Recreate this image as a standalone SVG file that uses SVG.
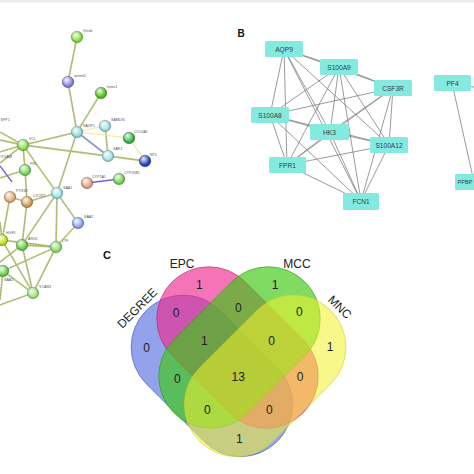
<svg xmlns="http://www.w3.org/2000/svg" xmlns:xlink="http://www.w3.org/1999/xlink" width="474" height="474" viewBox="0 0 474 474">
<style>
.ea{stroke:#c6d28a;stroke-width:1.8;fill:none}
.eb{stroke:#66705a;stroke-width:0.55;stroke-dasharray:1.6 1;fill:none;opacity:.8}
.ey{stroke:#eaea9a;stroke-width:1.2}
.ep{stroke:#6a64d8;stroke-width:1.3}
.ebl{stroke:#8a98c8;stroke-width:1.6}
.sph{stroke-width:0.4}
.lblA{font-family:"Liberation Sans",Arial,sans-serif;font-size:3.6px;fill:#555}
.be{stroke:#7a7a7a;stroke-width:0.75;fill:none}
.box{fill:#84eadf}
.bt{font-family:"Liberation Sans",Arial,sans-serif;font-size:6.6px;fill:#3a3a3a;text-anchor:middle}
.pl{font-family:"Liberation Sans",Arial,sans-serif;font-weight:bold;fill:#111}
.vl{font-family:"Liberation Sans",Arial,sans-serif;font-size:12px;fill:#222;text-anchor:middle}
.vn{font-family:"Liberation Sans",Arial,sans-serif;font-size:12px;fill:#222;text-anchor:middle}
</style>
<defs>
<radialGradient id="hl" cx="0.38" cy="0.32" r="0.5">
<stop offset="0" stop-color="#fff" stop-opacity="0.9"/>
<stop offset="1" stop-color="#fff" stop-opacity="0"/>
</radialGradient>
<radialGradient id="sh" cx="0.5" cy="0.5" r="0.5">
<stop offset="0.6" stop-color="#000" stop-opacity="0"/>
<stop offset="1" stop-color="#000" stop-opacity="0.3"/>
</radialGradient>
</defs>
<rect width="474" height="474" fill="#fff"/>
<rect width="474" height="2.5" fill="#ececec"/>

<!-- Panel A connectors -->
<g id="connectors-A">
<g class="ea"><g id="eA">
<line x1="77" y1="37" x2="68" y2="82"/>
<line x1="68" y1="82" x2="77" y2="132"/>
<line x1="101" y1="93" x2="77" y2="132"/>
<line x1="77" y1="132" x2="23" y2="145"/>
<line x1="77" y1="132" x2="57" y2="193"/>
<line x1="105" y1="126" x2="108" y2="156"/>
<line x1="108" y1="156" x2="145" y2="161"/>
<line x1="23" y1="145" x2="108" y2="156"/>
<line x1="23" y1="145" x2="25" y2="170"/>
<line x1="23" y1="145" x2="57" y2="193"/>
<line x1="23" y1="145" x2="0" y2="132"/>
<line x1="23" y1="145" x2="0" y2="140"/>
<line x1="23" y1="145" x2="0" y2="152"/>
<line x1="23" y1="145" x2="0" y2="163"/>
<line x1="25" y1="170" x2="27" y2="202"/>
<line x1="25" y1="170" x2="0" y2="178"/>
<line x1="57" y1="193" x2="27" y2="202"/>
<line x1="57" y1="193" x2="78" y2="223"/>
<line x1="57" y1="193" x2="56" y2="247"/>
<line x1="57" y1="193" x2="22" y2="245"/>
<line x1="10" y1="197" x2="27" y2="202"/>
<line x1="10" y1="197" x2="2" y2="240"/>
<line x1="27" y1="202" x2="22" y2="245"/>
<line x1="78" y1="223" x2="56" y2="247"/>
<line x1="22" y1="245" x2="56" y2="247"/>
<line x1="2" y1="240" x2="56" y2="247"/>
<line x1="3" y1="271" x2="56" y2="247"/>
<line x1="33" y1="293" x2="56" y2="247"/>
<line x1="33" y1="293" x2="22" y2="245"/>
<line x1="33" y1="293" x2="3" y2="271"/>
<line x1="2" y1="240" x2="33" y2="293"/>
<line x1="22" y1="245" x2="0" y2="262"/>
<line x1="3" y1="271" x2="0" y2="300"/>
<line x1="33" y1="293" x2="0" y2="305"/>
<line x1="2" y1="240" x2="0" y2="222"/>
</g></g>
<use href="#eA" xlink:href="#eA" class="eb"/>
<line class="ey" x1="77" y1="132" x2="105" y2="126"/>
<line class="ey" x1="77" y1="132" x2="129" y2="138"/>
<line class="ey" x1="129" y1="138" x2="145" y2="161"/>
<line class="ebl" x1="77" y1="132" x2="108" y2="156"/>
<line class="ep" x1="87" y1="183" x2="119" y2="179"/>
<line class="ep" x1="0" y1="166" x2="12" y2="182"/>
</g>

<!-- Panel A nodes -->
<g id="nodeA1"><circle class="sph" cx="77" cy="37" r="5.8" fill="#8ee04a" stroke="#5a9a2a"/><circle cx="77" cy="37" r="5.8" fill="url(#sh)"/><circle cx="77" cy="37" r="5.8" fill="url(#hl)"/><text class="lblA" x="83" y="32">Vtnsb</text></g>
<g id="nodeA2"><circle class="sph" cx="68" cy="82" r="5.8" fill="#8c86e8" stroke="#5a56a8"/><circle cx="68" cy="82" r="5.8" fill="url(#sh)"/><circle cx="68" cy="82" r="5.8" fill="url(#hl)"/><text class="lblA" x="74" y="77">atrnml1</text></g>
<g id="nodeA3"><circle class="sph" cx="101" cy="93" r="5.8" fill="#56c41c" stroke="#3a8a12"/><circle cx="101" cy="93" r="5.8" fill="url(#sh)"/><circle cx="101" cy="93" r="5.8" fill="url(#hl)"/><text class="lblA" x="107" y="88">hsmc1</text></g>
<g id="nodeA4"><circle class="sph" cx="77" cy="132" r="5.8" fill="#9edfe2" stroke="#62a0a4"/><circle cx="77" cy="132" r="5.8" fill="url(#sh)"/><circle cx="77" cy="132" r="5.8" fill="url(#hl)"/><text class="lblA" x="83" y="127">NAUP1</text></g>
<g id="nodeA5"><circle class="sph" cx="105" cy="126" r="5.8" fill="#a8e4e8" stroke="#68a4a8"/><circle cx="105" cy="126" r="5.8" fill="url(#sh)"/><circle cx="105" cy="126" r="5.8" fill="url(#hl)"/><text class="lblA" x="111" y="121">SAMD9L</text></g>
<g id="nodeA6"><circle class="sph" cx="129" cy="138" r="5.8" fill="#3cb850" stroke="#247a34"/><circle cx="129" cy="138" r="5.8" fill="url(#sh)"/><circle cx="129" cy="138" r="5.8" fill="url(#hl)"/><text class="lblA" x="134" y="133">COL6A1</text></g>
<g id="nodeA7"><circle class="sph" cx="108" cy="156" r="5.8" fill="#a8e8e8" stroke="#68a8a8"/><circle cx="108" cy="156" r="5.8" fill="url(#sh)"/><circle cx="108" cy="156" r="5.8" fill="url(#hl)"/><text class="lblA" x="113" y="150">SAR1</text></g>
<g id="nodeA8"><circle class="sph" cx="145" cy="161" r="5.8" fill="#2848b8" stroke="#182e80"/><circle cx="145" cy="161" r="5.8" fill="url(#sh)"/><circle cx="145" cy="161" r="5.8" fill="url(#hl)"/><text class="lblA" x="150" y="156">NT5</text></g>
<g id="nodeA9"><circle class="sph" cx="87" cy="183" r="5.8" fill="#e2aa8c" stroke="#a07058"/><circle cx="87" cy="183" r="5.8" fill="url(#sh)"/><circle cx="87" cy="183" r="5.8" fill="url(#hl)"/><text class="lblA" x="92" y="178">CYP1A1</text></g>
<g id="nodeA10"><circle class="sph" cx="119" cy="179" r="5.8" fill="#78d858" stroke="#4a9a34"/><circle cx="119" cy="179" r="5.8" fill="url(#sh)"/><circle cx="119" cy="179" r="5.8" fill="url(#hl)"/><text class="lblA" x="124" y="174">CYP26B1</text></g>
<g id="nodeA11"><circle class="sph" cx="23" cy="145" r="5.8" fill="#92e052" stroke="#5e9a30"/><circle cx="23" cy="145" r="5.8" fill="url(#sh)"/><circle cx="23" cy="145" r="5.8" fill="url(#hl)"/><text class="lblA" x="29" y="140">VCL</text></g>
<g id="nodeA12"><circle class="sph" cx="25" cy="170" r="5.8" fill="#7cdc60" stroke="#4c9a3a"/><circle cx="25" cy="170" r="5.8" fill="url(#sh)"/><circle cx="25" cy="170" r="5.8" fill="url(#hl)"/><text class="lblA" x="30" y="165">PRL</text></g>
<g id="nodeA13"><circle class="sph" cx="57" cy="193" r="5.8" fill="#a2e8ec" stroke="#62a6aa"/><circle cx="57" cy="193" r="5.8" fill="url(#sh)"/><circle cx="57" cy="193" r="5.8" fill="url(#hl)"/><text class="lblA" x="63" y="189">SAA1</text></g>
<g id="nodeA14"><circle class="sph" cx="10" cy="197" r="5.8" fill="#e8b080" stroke="#a67a50"/><circle cx="10" cy="197" r="5.8" fill="url(#sh)"/><circle cx="10" cy="197" r="5.8" fill="url(#hl)"/><text class="lblA" x="16" y="192">PTGS2</text></g>
<g id="nodeA15"><circle class="sph" cx="27" cy="202" r="5.8" fill="#d8a060" stroke="#9a6e3a"/><circle cx="27" cy="202" r="5.8" fill="url(#sh)"/><circle cx="27" cy="202" r="5.8" fill="url(#hl)"/><text class="lblA" x="33" y="197">CXCR2</text></g>
<g id="nodeA16"><circle class="sph" cx="78" cy="223" r="5.8" fill="#90a8f0" stroke="#5a6eb0"/><circle cx="78" cy="223" r="5.8" fill="url(#sh)"/><circle cx="78" cy="223" r="5.8" fill="url(#hl)"/><text class="lblA" x="84" y="218">SAA2</text></g>
<g id="nodeA17"><circle class="sph" cx="56" cy="247" r="5.8" fill="#92e272" stroke="#5aa044"/><circle cx="56" cy="247" r="5.8" fill="url(#sh)"/><circle cx="56" cy="247" r="5.8" fill="url(#hl)"/><text class="lblA" x="62" y="242">LTF</text></g>
<g id="nodeA18"><circle class="sph" cx="22" cy="245" r="5.8" fill="#72d052" stroke="#449034"/><circle cx="22" cy="245" r="5.8" fill="url(#sh)"/><circle cx="22" cy="245" r="5.8" fill="url(#hl)"/><text class="lblA" x="28" y="240">ARG1</text></g>
<g id="nodeA19"><circle class="sph" cx="2" cy="240" r="5.8" fill="#c8e020" stroke="#8a9a14"/><circle cx="2" cy="240" r="5.8" fill="url(#sh)"/><circle cx="2" cy="240" r="5.8" fill="url(#hl)"/><text class="lblA" x="6" y="234">HGF5</text></g>
<g id="nodeA20"><circle class="sph" cx="3" cy="271" r="5.8" fill="#72d052" stroke="#449034"/><circle cx="3" cy="271" r="5.8" fill="url(#sh)"/><circle cx="3" cy="271" r="5.8" fill="url(#hl)"/><text class="lblA" x="4" y="281">SAA1</text></g>
<g id="nodeA21"><circle class="sph" cx="33" cy="293" r="5.8" fill="#a2e882" stroke="#64a44c"/><circle cx="33" cy="293" r="5.8" fill="url(#sh)"/><circle cx="33" cy="293" r="5.8" fill="url(#hl)"/><text class="lblA" x="39" y="288">VCAM1</text></g>
<g id="labelsA-edge"><text class="lblA" x="0.5" y="121">SPP1</text><text class="lblA" x="0.5" y="158">ITGAM</text></g>

<!-- Panel B -->
<text class="pl" x="237.5" y="37" font-size="10">B</text>
<g id="connectors-B" class="be">
<line x1="284" y1="49" x2="339" y2="67"/>
<line x1="284" y1="49" x2="393" y2="88"/>
<line x1="284" y1="49" x2="270" y2="115"/>
<line x1="284" y1="49" x2="330" y2="132"/>
<line x1="284" y1="49" x2="389" y2="145"/>
<line x1="284" y1="49" x2="287" y2="165"/>
<line x1="284" y1="49" x2="361" y2="201"/>
<line x1="339" y1="67" x2="393" y2="88"/>
<line x1="339" y1="67" x2="270" y2="115"/>
<line x1="339" y1="67" x2="330" y2="132"/>
<line x1="339" y1="67" x2="389" y2="145"/>
<line x1="339" y1="67" x2="287" y2="165"/>
<line x1="339" y1="67" x2="361" y2="201"/>
<line x1="393" y1="88" x2="270" y2="115"/>
<line x1="393" y1="88" x2="330" y2="132"/>
<line x1="393" y1="88" x2="389" y2="145"/>
<line x1="393" y1="88" x2="287" y2="165"/>
<line x1="393" y1="88" x2="361" y2="201"/>
<line x1="270" y1="115" x2="330" y2="132"/>
<line x1="270" y1="115" x2="389" y2="145"/>
<line x1="270" y1="115" x2="287" y2="165"/>
<line x1="270" y1="115" x2="361" y2="201"/>
<line x1="330" y1="132" x2="389" y2="145"/>
<line x1="330" y1="132" x2="287" y2="165"/>
<line x1="330" y1="132" x2="361" y2="201"/>
<line x1="389" y1="145" x2="287" y2="165"/>
<line x1="389" y1="145" x2="361" y2="201"/>
<line x1="287" y1="165" x2="361" y2="201"/>
<line x1="452" y1="83" x2="474" y2="182"/>
<line x1="452" y1="83" x2="490" y2="90"/>
</g>
<g id="nodeAQP9"><rect class="box" x="265" y="41" width="38" height="16" rx="1.5"/><text class="bt" x="284" y="51.5">AQP9</text></g>
<g id="nodeS100A9"><rect class="box" x="320" y="59" width="38" height="16" rx="1.5"/><text class="bt" x="339" y="69.5">S100A9</text></g>
<g id="nodeCSF3R"><rect class="box" x="374" y="80" width="38" height="16" rx="1.5"/><text class="bt" x="393" y="90.5">CSF3R</text></g>
<g id="nodeS100A8"><rect class="box" x="251" y="107" width="38" height="16" rx="1.5"/><text class="bt" x="270" y="117.5">S100A8</text></g>
<g id="nodeHK3"><rect class="box" x="310" y="124" width="39" height="16" rx="1.5"/><text class="bt" x="329.5" y="134.5">HK3</text></g>
<g id="nodeS100A12"><rect class="box" x="370" y="137" width="38" height="16" rx="1.5"/><text class="bt" x="389" y="147.5">S100A12</text></g>
<g id="nodeFPR1"><rect class="box" x="269" y="157" width="37" height="16" rx="1.5"/><text class="bt" x="287.5" y="167.5">FPR1</text></g>
<g id="nodeFCN1"><rect class="box" x="343" y="193" width="36" height="17" rx="1.5"/><text class="bt" x="361" y="204">FCN1</text></g>
<g id="nodePF4"><rect class="box" x="434" y="75" width="37" height="16" rx="1.5"/><text class="bt" x="452.5" y="85.5">PF4</text></g>
<g id="nodePPBP"><rect class="box" x="455" y="174" width="38" height="16" rx="1.5"/><text class="bt" x="457.5" y="184.2" style="text-anchor:start;font-size:5.6px">PPBP</text></g>

<!-- Panel C -->
<text class="pl" x="103" y="259" font-size="11">C</text>
<g id="venn">
<g id="setDEGREE"><rect x="-92.65" y="-52" width="185.3" height="104" rx="52" transform="translate(211.85,375.85) rotate(45)" fill="#4a66dd" fill-opacity="0.6" stroke="#3a50b8" stroke-opacity="0.7" stroke-width="0.8"/></g>
<g id="setEPC"><rect x="-92.65" y="-52" width="185.3" height="104" rx="52" transform="translate(237.5,347.5) rotate(45)" fill="#ee2a90" fill-opacity="0.65" stroke="#c0206e" stroke-opacity="0.7" stroke-width="0.8"/></g>
<g id="setMCC"><rect x="-92.65" y="-52" width="185.3" height="104" rx="52" transform="translate(239.5,347.5) rotate(-45)" fill="#3cc810" fill-opacity="0.66" stroke="#2e9a10" stroke-opacity="0.7" stroke-width="0.8"/></g>
<g id="setMNC"><rect x="-92.65" y="-52" width="185.3" height="104" rx="52" transform="translate(265.15,375.85) rotate(-45)" fill="#f2f22a" fill-opacity="0.55" stroke="#d0d020" stroke-opacity="0.7" stroke-width="0.8"/></g>
<text class="vl" x="182" y="267.5">EPC</text>
<text class="vl" x="297" y="267.5">MCC</text>
<text class="vl" transform="translate(137,308) rotate(-45)" x="0" y="4.3">DEGREE</text>
<text class="vl" transform="translate(340,307) rotate(45)" x="0" y="4.3">MNC</text>
<text class="vn" x="199.3" y="289.3">1</text>
<text class="vn" x="275" y="289.3">1</text>
<text class="vn" x="146.7" y="352.3">0</text>
<text class="vn" x="330" y="351">1</text>
<text class="vn" x="176" y="317">0</text>
<text class="vn" x="238.3" y="311.6">0</text>
<text class="vn" x="299.3" y="316">0</text>
<text class="vn" x="204.3" y="345">1</text>
<text class="vn" x="271.7" y="345">0</text>
<text class="vn" x="177.3" y="382.6">0</text>
<text class="vn" x="238.3" y="381">13</text>
<text class="vn" x="300" y="381">0</text>
<text class="vn" x="207.3" y="414.3">0</text>
<text class="vn" x="269.3" y="414.3">0</text>
<text class="vn" x="239.3" y="442.6">1</text>
</g>
</svg>
